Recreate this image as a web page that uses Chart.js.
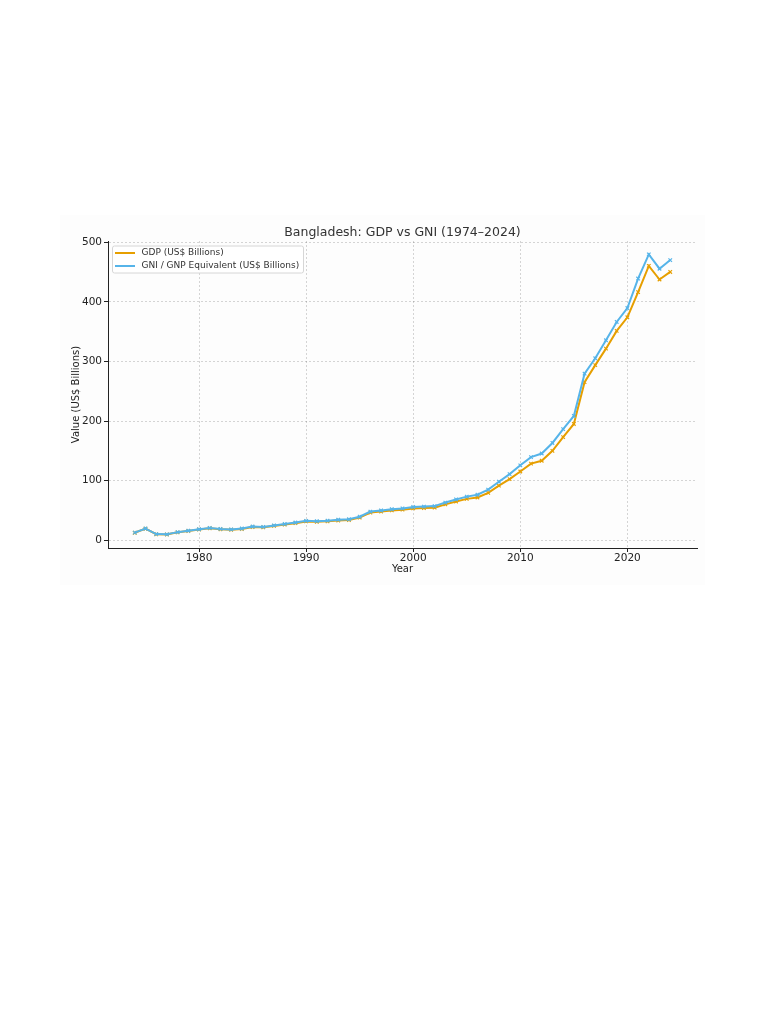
<!DOCTYPE html>
<html>
<head>
<meta charset="utf-8">
<script src="https://cdn.jsdelivr.net/npm/chart.js@4.4.1/dist/chart.umd.min.js"></script>
<style>
  html, body { margin: 0; padding: 0; background: #fff; }
  #wrap { position: absolute; left: 60px; top: 215px; width: 645px; height: 370px; background: #fdfdfd; }
</style>
</head>
<body>
<div id="wrap"><canvas id="chart" width="645" height="370"></canvas></div>
<script>
// Data (US$ billions)
const years = [];
for (let y = 1974; y <= 2024; y++) years.push(y);

const gdp = [12.5, 19.4, 10.1, 9.7, 13.3, 15.6, 18.1, 20.2, 18.5, 17.6,
             18.9, 22.3, 21.7, 24.1, 26.3, 28.7, 31.6, 30.9, 31.7, 33.2,
             33.8, 37.9, 46.4, 48.2, 50.1, 51.3, 53.4, 54.0, 54.7, 60.2,
             65.1, 69.4, 71.8, 79.6, 91.6, 102.5, 115.3, 128.6, 133.4, 150.0,
             172.9, 195.1, 265.2, 293.8, 321.4, 351.2, 374.0, 416.3, 460.2, 437.4,
             450.1];

const gni = [12.7, 19.6, 10.3, 9.9, 13.6, 15.9, 18.5, 20.7, 19.0, 18.2,
             19.6, 23.0, 22.4, 24.9, 27.2, 29.7, 32.6, 32.0, 32.9, 34.5,
             35.2, 39.5, 48.1, 50.0, 52.1, 53.4, 55.7, 56.5, 57.3, 63.2,
             68.5, 73.2, 76.3, 84.9, 98.2, 111.0, 125.7, 139.5, 145.5, 163.2,
             186.5, 208.5, 279.5, 305.2, 335.5, 366.2, 389.5, 439.0, 479.5, 455.5,
             470.0];

const xTicks = [1980, 1990, 2000, 2010, 2020];
const yTicks = [0, 100, 200, 300, 400, 500];

const orange = '#E69F00';
const blue = '#56B4E9';
const font = 'DejaVu Sans';

// legend drawn inside the plot area, top left
const innerLegend = {
    id: 'innerLegend',
    afterDraw(chart) {
        const ctx = chart.ctx;
        const ca = chart.chartArea;
        const x = ca.left + 4;
        const y = ca.top + 4.5;
        const w = 191;
        const h = 27;
        ctx.save();
        ctx.fillStyle = 'rgba(255,255,255,0.85)';
        ctx.strokeStyle = '#d6d6d6';
        ctx.lineWidth = 1;
        ctx.beginPath();
        ctx.roundRect(x + 0.5, y + 0.5, w, h, 2);
        ctx.fill();
        ctx.stroke();
        ctx.font = '9px "' + font + '"';
        ctx.textBaseline = 'middle';
        chart.data.datasets.forEach((ds, i) => {
            const ly = y + 7.5 + i * 13;
            ctx.strokeStyle = ds.borderColor;
            ctx.lineWidth = 2;
            ctx.beginPath();
            ctx.moveTo(x + 3, ly);
            ctx.lineTo(x + 23, ly);
            ctx.stroke();
            ctx.fillStyle = '#333';
            ctx.fillText(ds.label, x + 29.5, ly);
        });
        ctx.restore();
    }
};

new Chart(document.getElementById('chart'), {
    type: 'line',
    data: {
        labels: years,
        datasets: [
            {
                label: 'GDP (US$ Billions)',
                data: years.map((yr, i) => ({ x: yr, y: gdp[i] })),
                borderColor: orange,
                backgroundColor: orange,
                borderWidth: 2,
                pointStyle: 'crossRot',
                pointRadius: 2.5,
                pointBorderWidth: 1.2,
                order: 1
            },
            {
                label: 'GNI / GNP Equivalent (US$ Billions)',
                data: years.map((yr, i) => ({ x: yr, y: gni[i] })),
                borderColor: blue,
                backgroundColor: blue,
                borderWidth: 2,
                pointStyle: 'crossRot',
                pointRadius: 2.5,
                pointBorderWidth: 1.2,
                order: 0
            }
        ]
    },
    options: {
        responsive: false,
        animation: false,
        layout: { padding: { left: 0, right: 8, top: 0, bottom: 0 } },
        plugins: {
            legend: { display: false },
            tooltip: { enabled: false },
            title: {
                display: true,
                fullSize: false,
                text: 'Bangladesh: GDP vs GNI (1974–2024)',
                color: '#333',
                font: { family: font, size: 12.5, weight: 'normal' },
                padding: { top: 10, bottom: 1 }
            }
        },
        scales: {
            x: {
                type: 'linear',
                min: 1971.5,
                max: 2026.5,
                afterBuildTicks: (scale) => { scale.ticks = xTicks.map(v => ({ value: v })); },
                afterFit: (scale) => { scale.height = 37; },
                ticks: {
                    color: '#222',
                    font: { family: font, size: 10.5 },
                    padding: 0,
                    maxRotation: 0,
                    callback: (v) => String(v)
                },
                grid: {
                    color: 'rgba(0,0,0,0.16)',
                    lineWidth: 1,
                    tickColor: '#222',
                    tickLength: 4
                },
                border: { color: '#222', width: 1, dash: [2, 2] },
                title: {
                    display: true,
                    text: 'Year',
                    color: '#222',
                    font: { family: font, size: 10 },
                    padding: { top: 0, bottom: 10 }
                }
            },
            y: {
                min: -13,
                max: 502,
                afterBuildTicks: (scale) => { scale.ticks = yTicks.map(v => ({ value: v })); },
                afterFit: (scale) => { scale.width = 48; },
                ticks: {
                    color: '#222',
                    font: { family: font, size: 10.5 },
                    padding: 2
                },
                grid: {
                    color: 'rgba(0,0,0,0.16)',
                    lineWidth: 1,
                    tickColor: '#222',
                    tickLength: 4
                },
                border: { color: '#222', width: 1, dash: [2, 2] },
                title: {
                    display: true,
                    text: 'Value (US$ Billions)',
                    color: '#222',
                    font: { family: font, size: 10 },
                    padding: { top: 10, bottom: 0 }
                }
            }
        }
    },
    plugins: [innerLegend]
});
</script>
</body>
</html>
